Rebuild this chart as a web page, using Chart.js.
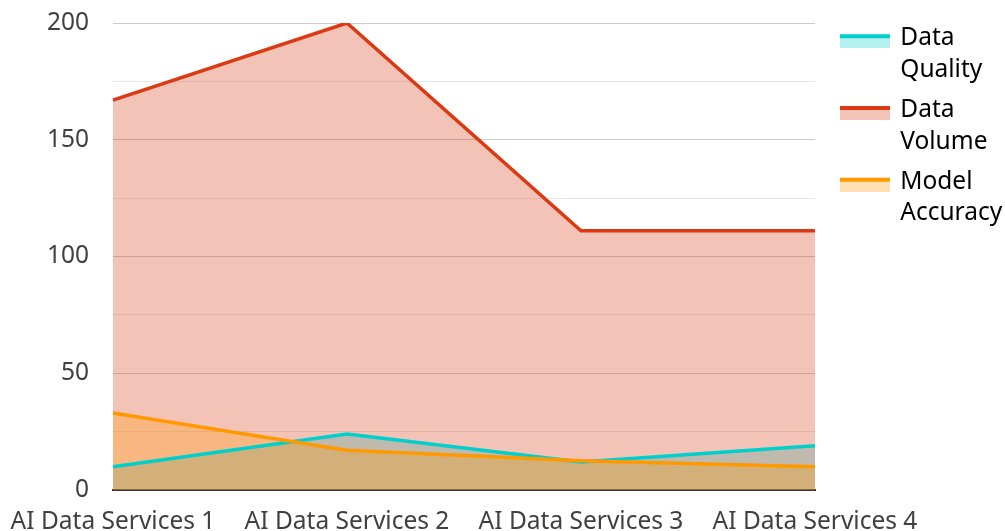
<!DOCTYPE html>
<html>
<head>
<meta charset="utf-8">
<script src="https://cdn.jsdelivr.net/npm/chart.js@4"></script>
<style>
  html, body { margin: 0; padding: 0; background: #fff; }
  #wrap { width: 1005px; height: 531px; }
</style>
</head>
<body>
<div id="wrap"><canvas id="chart"></canvas></div>
<script>
const categories = ['AI Data Services 1', 'AI Data Services 2', 'AI Data Services 3', 'AI Data Services 4'];
const dataQuality = [10, 24, 12, 19];
const dataVolume = [167, 200, 111, 111];
const modelAccuracy = [33, 17, 12.5, 10];
const seriesNames = [['Data', 'Quality'], ['Data', 'Volume'], ['Model', 'Accuracy']];

const lineColors = ['#00cfcc', '#dc3912', '#ff9900'];
const fillColors = ['rgba(0, 207, 204, 0.3)', 'rgba(220, 57, 18, 0.3)', 'rgba(255, 153, 0, 0.3)'];

// legend swatch: thick line on top, light fill below (top rows left empty to sit a bit lower)
function swatch(line, fill) {
    const c = document.createElement('canvas');
    c.width = 50;
    c.height = 20;
    const g = c.getContext('2d');
    g.fillStyle = fill;
    g.fillRect(0, 9, 50, 11);
    g.fillStyle = line;
    g.fillRect(0, 6, 50, 4);
    return c;
}

// drawn first = lowest, so cyan gets the highest order
function makeSet(i, values) {
    return {
        label: seriesNames[i].join(' '),
        data: values,
        order: 3 - i,
        borderColor: lineColors[i],
        backgroundColor: fillColors[i],
        borderWidth: 3.5,
        pointRadius: 0,
        tension: 0,
        fill: 'origin'
    };
}

// legend sits right after the plot area; push it over a bit
const shiftLegend = {
    id: 'shiftLegend',
    afterLayout(chart) {
        chart.legend.left += 18;
        chart.legend.right += 18;
    }
};

const font = { family: '"Noto Sans", sans-serif', size: 24.5 };

new Chart(document.getElementById('chart'), {
    type: 'line',
    data: {
        labels: categories,
        datasets: [makeSet(0, dataQuality), makeSet(1, dataVolume), makeSet(2, modelAccuracy)]
    },
    plugins: [shiftLegend],
    options: {
        responsive: true,
        maintainAspectRatio: false,
        animation: false,
        layout: { padding: { top: 18, right: 0, left: 0, bottom: 0 } },
        scales: {
            x: {
                offset: false,
                grid: { display: false, drawTicks: false },
                border: { color: '#333', width: 2 },
                ticks: { color: '#404040', font: font, maxRotation: 0, autoSkip: false, padding: 17 },
                afterFit: s => { s.paddingLeft = 113; s.paddingRight = 190; s.height = 41; }
            },
            y: {
                min: 0,
                max: 200,
                border: { display: false },
                grid: {
                    color: ctx => (ctx.tick.value % 50 === 0 ? '#cccccc' : '#e8e8e8'),
                    drawTicks: false
                },
                ticks: {
                    stepSize: 25,
                    color: '#404040',
                    font: font,
                    padding: 24,
                    callback: v => (v % 50 === 0 ? v : '')
                },
                afterFit: s => { s.paddingTop = 23; s.paddingBottom = 41; }
            }
        },
        plugins: {
            tooltip: { enabled: false },
            filler: { drawTime: 'beforeDatasetsDraw' },
            legend: {
                position: 'right',
                align: 'start',
                labels: {
                    color: '#333',
                    font: { family: '"Noto Sans", sans-serif', size: 24.5, lineHeight: 1.3 },
                    usePointStyle: true,
                    pointStyleWidth: 47,
                    padding: 8,
                    generateLabels: chart => chart.data.datasets.map((ds, i) => ({
                        text: seriesNames[i],
                        pointStyle: swatch(lineColors[i], fillColors[i]),
                        fillStyle: fillColors[i],
                        strokeStyle: lineColors[i],
                        lineWidth: 0,
                        hidden: false,
                        datasetIndex: i
                    }))
                }
            }
        }
    }
});
</script>
</body>
</html>
